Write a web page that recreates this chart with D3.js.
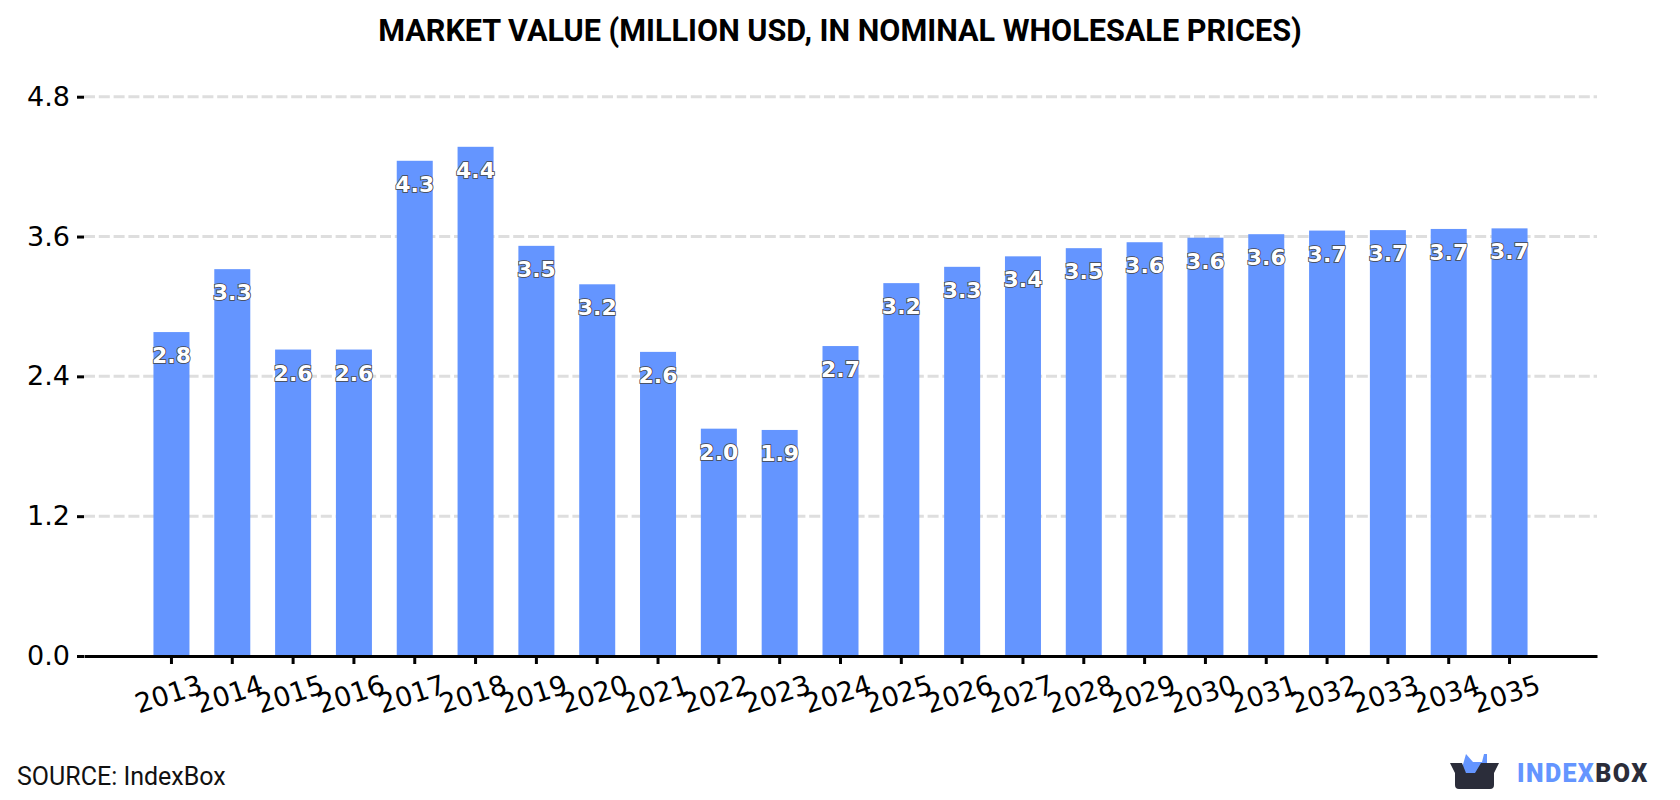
<!DOCTYPE html>
<html>
<head>
<meta charset="utf-8">
<script src="https://cdn.jsdelivr.net/npm/d3@7"></script>
<style>
  html, body { margin: 0; padding: 0; background: #fff; }
  svg { display: block; }
</style>
</head>
<body>
<svg id="chart" width="1680" height="800"></svg>
<script>
const years = [2013, 2014, 2015, 2016, 2017, 2018, 2019, 2020, 2021, 2022, 2023, 2024,
               2025, 2026, 2027, 2028, 2029, 2030, 2031, 2032, 2033, 2034, 2035];
const marketValue = [2.78, 3.32, 2.63, 2.63, 4.25, 4.37, 3.52, 3.19, 2.61, 1.951, 1.94, 2.66,
                     3.2, 3.34, 3.43, 3.5, 3.551, 3.59, 3.62, 3.651, 3.655, 3.665, 3.67];
const yTicks = [0, 1.2, 2.4, 3.6, 4.8];
const titleText = "MARKET VALUE (MILLION USD, IN NOMINAL WHOLESALE PRICES)";
const sourceText = "SOURCE: IndexBox";

const svg = d3.select("#chart");
const plotLeft = 84, plotRight = 1597, plotTop = 96.7, plotBottom = 656;

const x = d3.scaleBand().domain(years).range([plotLeft, plotRight])
  .paddingInner(0.408).paddingOuter(1.142);
const y = d3.scaleLinear().domain([0, 4.8]).range([plotBottom, plotTop]);
const fmt = d3.format(".1f");

svg.append("text")
  .attr("x", 840).attr("y", 41)
  .attr("text-anchor", "middle")
  .attr("font-family", "Roboto").attr("font-weight", 700).attr("font-size", 30.6)
  .attr("fill", "#000")
  .text(titleText);

// Dashed horizontal grid, skipping the baseline
svg.append("g").selectAll("line")
  .data(yTicks.filter(d => d > 0))
  .join("line")
  .attr("x1", plotLeft).attr("x2", plotRight)
  .attr("y1", d => y(d)).attr("y2", d => y(d))
  .attr("stroke", "#dedede").attr("stroke-width", 3)
  .attr("stroke-dasharray", "11 3.8");

// Bars
svg.append("g").selectAll("rect")
  .data(years)
  .join("rect")
  .attr("x", d => x(d))
  .attr("width", x.bandwidth())
  .attr("y", (d, i) => y(marketValue[i]))
  .attr("height", (d, i) => y(0) - y(marketValue[i]))
  .attr("fill", "#6495ff");

// Left axis
const yAxis = svg.append("g")
  .attr("transform", `translate(${plotLeft},0)`)
  .call(d3.axisLeft(y).tickValues(yTicks).tickFormat(fmt).tickSize(7).tickPadding(7));
yAxis.select(".domain").remove();
yAxis.selectAll("line").attr("stroke", "#000").attr("stroke-width", 3);
yAxis.selectAll("text")
  .attr("font-family", "DejaVu Sans").attr("font-size", 27).attr("fill", "#000");

// Bottom axis with tilted year labels
const xAxis = svg.append("g")
  .attr("transform", `translate(0,${plotBottom})`)
  .call(d3.axisBottom(x).tickSizeInner(8).tickSizeOuter(0).tickPadding(0));
xAxis.select(".domain").attr("stroke", "#000").attr("stroke-width", 3);
xAxis.selectAll("line").attr("stroke", "#000").attr("stroke-width", 3);
xAxis.selectAll("text")
  .attr("font-family", "DejaVu Sans").attr("font-size", 27).attr("fill", "#000")
  .attr("text-anchor", "middle")
  .attr("dy", 0)
  .attr("y", 0)
  .attr("transform", "translate(0,47) rotate(-18)");

// Value labels sitting inside the top of each bar
svg.append("g").selectAll("text")
  .data(years)
  .join("text")
  .attr("x", d => x(d) + x.bandwidth() / 2)
  .attr("y", (d, i) => y(marketValue[i]) + 31)
  .attr("text-anchor", "middle")
  .attr("font-family", "DejaVu Sans").attr("font-weight", 700).attr("font-size", 22)
  .attr("fill", "#fff")
  .attr("stroke", "#444").attr("stroke-width", 1.6)
  .attr("paint-order", "stroke")
  .text((d, i) => fmt(marketValue[i]));

svg.append("text")
  .attr("x", 17).attr("y", 785)
  .attr("font-family", "Roboto").attr("font-size", 25)
  .attr("fill", "#111")
  .text(sourceText);

// IndexBox logo: open box with a crown above it
const logo = svg.append("g");
logo.append("path")
  .attr("d", "M1462 768 L1466 754 L1473 762 L1482 762 L1484 754 L1487 754 L1487 772 L1475 775 L1462 772 Z")
  .attr("fill", "#6495ff");
logo.append("path")
  .attr("d", "M1450 763 L1499 763 L1494 773 L1494 785 Q1494 789 1490 789 L1459 789 Q1455 789 1455 785 L1455 773 Z M1462 763 L1466 773 L1475 773 L1481 763 Z")
  .attr("fill", "#2b2d3a").attr("fill-rule", "evenodd");
const logoText = logo.append("text")
  .attr("x", 1517).attr("y", 782)
  .attr("font-family", "Roboto").attr("font-weight", 900).attr("font-size", 25)
  .attr("letter-spacing", 1.4);
logoText.append("tspan").attr("fill", "#6495ff").text("INDEX");
logoText.append("tspan").attr("fill", "#2b2d3a").text("BOX");
</script>
</body>
</html>
